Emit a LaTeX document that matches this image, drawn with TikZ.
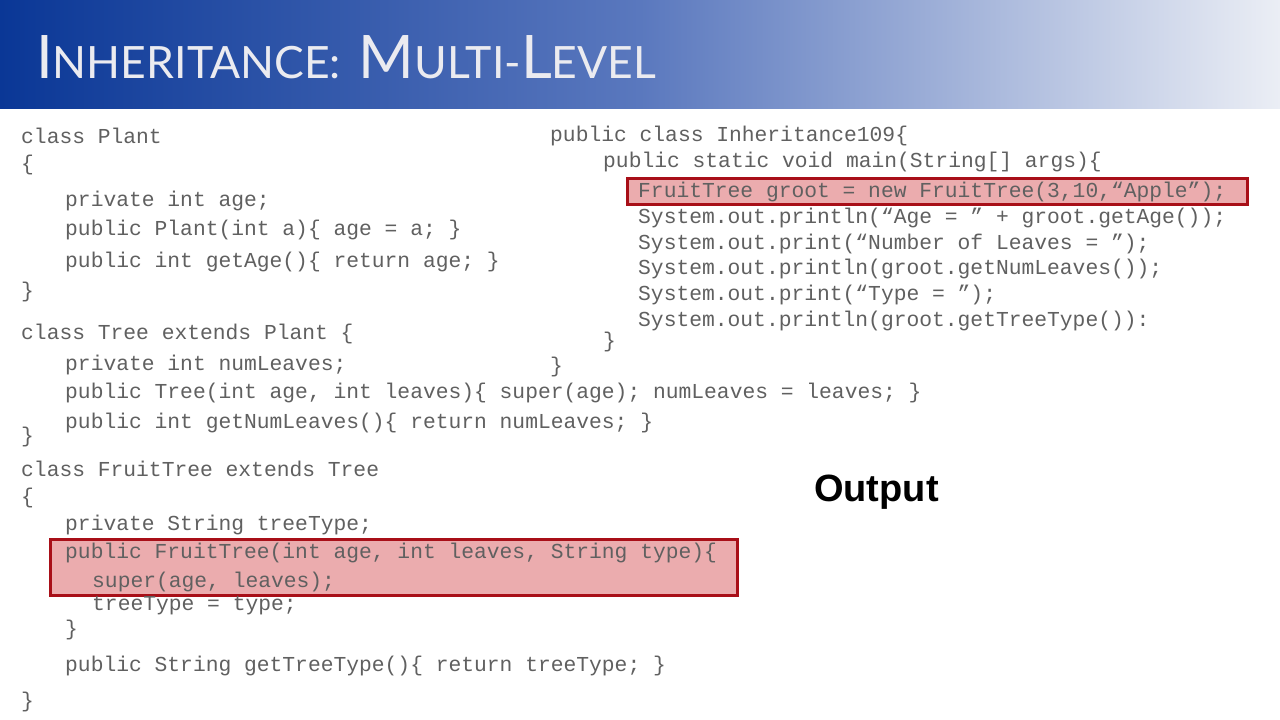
\documentclass[tikz,border=0pt]{standalone}
\usepackage{fontspec}
\setmainfont{Liberation Sans}
\newfontfamily\codefont{Liberation Mono}
\newfontfamily\titlefont{Lato}
\definecolor{codegray}{HTML}{606060}
\definecolor{boxred}{HTML}{A80F18}
\definecolor{boxfill}{HTML}{E9A3A6}
\begin{document}
\begin{tikzpicture}[x=1pt,y=-1pt,
  code/.style={anchor=base west,inner sep=0pt,font=\codefont\fontsize{21.3}{22}\selectfont,text=codegray},
  hl/.style={draw=boxred,line width=3pt,fill=boxfill,fill opacity=0.9}]
\useasboundingbox (0,0) rectangle (1280,720);
\fill[white] (0,0) rectangle (1280,720);
\shade[left color={rgb,255:red,10;green,55;blue,150}, right color={rgb,255:red,235;green,238;blue,245}, middle color={rgb,255:red,90;green,120;blue,190}] (0,0) rectangle (1280,108);
\node[anchor=base west,inner sep=0pt,text={rgb,255:red,235;green,235;blue,240},font=\titlefont] (title) at (36,78)
 {\fontsize{60}{60}\selectfont I\fontsize{44.5}{44.5}\selectfont NHERITANCE:\hspace{18pt}\fontsize{60}{60}\selectfont M\fontsize{44.5}{44.5}\selectfont ULTI-\fontsize{60}{60}\selectfont L\fontsize{44.5}{44.5}\selectfont EVEL};
% highlight boxes
\draw[hl] (627,178) rectangle (1247,204);
\draw[hl] (50,539) rectangle (737,595);
% left code
\node[code] (l1) at (21,143) {class Plant};
\node[code] (l2) at (21,170) {\{};
\node[code] (l3) at (65,206) {private int age;};
\node[code] (l4) at (65,235) {public Plant(int a)\{ age = a; \}};
\node[code] (l5) at (65,267) {public int getAge()\{ return age; \}};
\node[code] (l6) at (21,297) {\}};
\node[code] (l7) at (21,339) {class Tree extends Plant \{};
\node[code] (l8) at (65,370) {private int numLeaves;};
\node[code] (l9) at (65,398) {public Tree(int age, int leaves)\{ super(age); numLeaves = leaves; \}};
\node[code] (l10) at (65,428) {public int getNumLeaves()\{ return numLeaves; \}};
\node[code] (l11) at (21,442) {\}};
\node[code] (l12) at (21,476) {class FruitTree extends Tree};
\node[code] (l13) at (21,503) {\{};
\node[code] (l14) at (65,530) {private String treeType;};
\node[code] (l15) at (65,558) {public FruitTree(int age, int leaves, String type)\{};
\node[code] (l16) at (92,587) {super(age, leaves);};
\node[code] (l17) at (92,610) {treeType = type;};
\node[code] (l18) at (65,635) {\}};
\node[code] (l19) at (65,671) {public String getTreeType()\{ return treeType; \}};
\node[code] (l20) at (21,707) {\}};
% right code
\node[code] (r1) at (550,141) {public class Inheritance109\{};
\node[code] (r2) at (603,167) {public static void main(String[] args)\{};
\node[code] (r3) at (638,197) {FruitTree groot = new FruitTree(3,10,“Apple”);};
\node[code] (r4) at (638,223) {System.out.println(“Age = ” + groot.getAge());};
\node[code] (r5) at (638,249) {System.out.print(“Number of Leaves = ”);};
\node[code] (r6) at (638,274) {System.out.println(groot.getNumLeaves());};
\node[code] (r7) at (638,300) {System.out.print(“Type = ”);};
\node[code] (r8) at (638,326) {System.out.println(groot.getTreeType()):};
\node[code] (r9) at (603,347) {\}};
\node[code] (r10) at (550,372) {\}};
\node[anchor=base west,inner sep=0pt,font=\bfseries\fontsize{38}{38}\selectfont] (out) at (814,501) {Output};
\end{tikzpicture}
\end{document}
